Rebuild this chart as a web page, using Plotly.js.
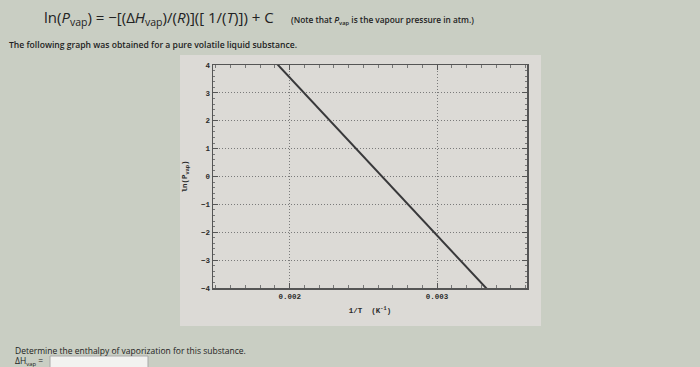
<!DOCTYPE html>
<html>
<head>
<meta charset="utf-8">
<script src="https://cdn.plot.ly/plotly-3.0.1.min.js"></script>
<style>html,body{margin:0;padding:0;background:#c9cec3;}#chart{width:700px;height:367px;}</style>
</head>
<body>
<div id="chart"></div>
<script>
// Data
const invT = [0.00190, 0.00335];      // 1/T (K^-1)
const lnP = [4.12, -4.10];             // ln(P_vap)
const yTicks = [-4, -3, -2, -1, 0, 1, 2, 3, 4];
const xTicks = [0.002, 0.003];
const xTickLabels = ['0.002', '0.003'];

const L = 213, R = 527, T = 65, B = 288;
const px = v => (v - L) / (R - L);
const py = v => (B - v) / (B - T);

const monoFont = {family: 'Liberation Mono, DejaVu Sans Mono, monospace', size: 7.5, color: '#2a2a2a', weight: 700};
const textFont = {family: 'Open Sans, Liberation Sans, sans-serif', color: '#222'};

const trace = {
  x: invT, y: lnP, type: 'scatter', mode: 'lines',
  line: {color: '#38383a', width: 2}, hoverinfo: 'skip'
};

const layout = {
  width: 700, height: 367,
  margin: {l: L, r: 700 - R, t: T, b: 367 - B},
  paper_bgcolor: '#c9cec3',
  plot_bgcolor: '#e6e1e1',
  showlegend: false,
  xaxis: {
    range: [0.00148, 0.00361],
    tickvals: xTicks, ticktext: xTickLabels,
    ticks: 'inside', ticklen: 5, tickcolor: '#555',
    showline: true, linecolor: '#555', linewidth: 1.5, mirror: 'allticks',
    showgrid: true, gridcolor: '#7a7a7a', griddash: '1px,2px', gridwidth: 1,
    zeroline: false,
    tickfont: monoFont,
    minor: {dtick: 0.0001, tick0: 0.002, ticks: 'inside', ticklen: 3, tickcolor: '#777', showgrid: false},
    title: {text: '1/T  (K<sup>-1</sup>)', font: monoFont, standoff: 8}
  },
  yaxis: {
    range: [-4, 4],
    tickvals: yTicks,
    ticks: 'inside', ticklen: 5, tickcolor: '#555',
    showline: true, linecolor: '#555', linewidth: 1.5, mirror: 'allticks',
    showgrid: true, gridcolor: '#7a7a7a', griddash: '1px,2px', gridwidth: 1,
    zeroline: false,
    tickfont: monoFont,
    minor: {dtick: 0.2, ticks: 'inside', ticklen: 2, tickcolor: '#777', showgrid: false},
    title: {text: 'ln(P<sub>vap</sub>)', font: monoFont, standoff: 12}
  },
  shapes: [
    {type: 'rect', xref: 'paper', yref: 'paper', layer: 'below',
     x0: px(180), x1: px(541), y0: py(326), y1: py(55),
     fillcolor: '#dcdad6', line: {width: 0}},
    {type: 'rect', xref: 'paper', yref: 'paper',
     x0: px(50), x1: px(148), y0: py(372), y1: py(356),
     fillcolor: '#f2f2f0', line: {color: '#a8a8a8', width: 1}}
  ],
  annotations: [
    {xref: 'paper', yref: 'paper', x: px(42), y: py(18), xanchor: 'left', yanchor: 'middle', showarrow: false,
     text: 'ln(<i>P</i><sub>vap</sub>) = −[(Δ<i>H</i><sub>vap</sub>)/(<i>R</i>)]([ 1/(<i>T</i>)]) + C',
     font: Object.assign({}, textFont, {size: 15})},
    {xref: 'paper', yref: 'paper', x: px(289), y: py(20), xanchor: 'left', yanchor: 'middle', showarrow: false,
     text: '(Note that <i>P</i><sub>vap</sub> is the vapour pressure in atm.)',
     font: Object.assign({}, textFont, {size: 8.3, weight: 600})},
    {xref: 'paper', yref: 'paper', x: px(7), y: py(45), xanchor: 'left', yanchor: 'middle', showarrow: false,
     text: 'The following graph was obtained for a pure volatile liquid substance.',
     font: Object.assign({}, textFont, {size: 8.6, weight: 600})},
    {xref: 'paper', yref: 'paper', x: px(13), y: py(350), xanchor: 'left', yanchor: 'middle', showarrow: false,
     text: 'Determine the enthalpy of vaporization for this substance.',
     font: Object.assign({}, textFont, {size: 8.5})},
    {xref: 'paper', yref: 'paper', x: px(13), y: py(361), xanchor: 'left', yanchor: 'middle', showarrow: false,
     text: 'ΔH<sub>vap</sub> =',
     font: Object.assign({}, textFont, {size: 8.5})}
  ]
};

Plotly.newPlot('chart', [trace], layout, {displayModeBar: false, staticPlot: true});
</script>
</body>
</html>
